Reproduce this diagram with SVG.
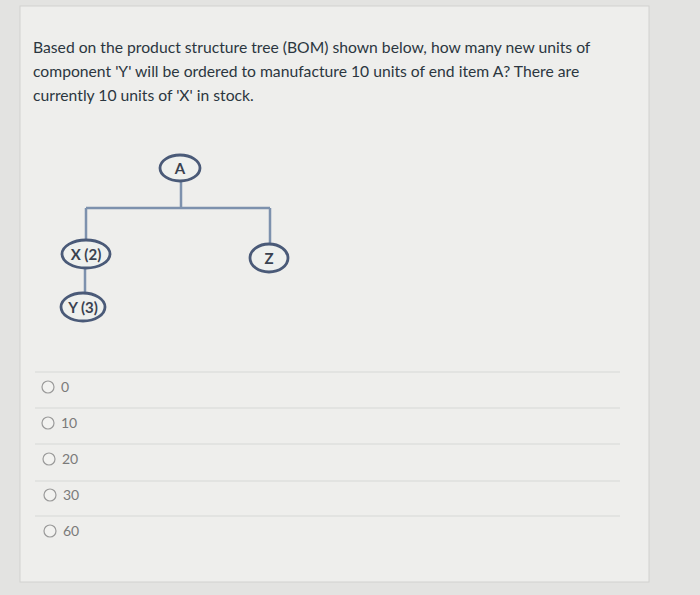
<svg xmlns="http://www.w3.org/2000/svg" width="700" height="595" viewBox="0 0 700 595">
<style>
.q{font-family:Lato,"Liberation Sans",sans-serif;font-size:15.7px;fill:#2b3640}
.edge{stroke:#7d91ad;stroke-width:2.5;fill:none}
.node ellipse{fill:#eef0ee;stroke:#4a5a78;stroke-width:2.8}
.node text{font-family:Lato,"Liberation Sans",sans-serif;font-size:15px;font-weight:bold;fill:#3a4250;text-anchor:middle}
.opt text{font-family:Lato,"Liberation Sans",sans-serif;font-size:14px;fill:#7a7a7a}
.opt circle{fill:#f2f2f0;stroke:#9a9a9a;stroke-width:1.2}
.sep{stroke:#d6d8d6;stroke-width:1}
</style>
<rect x="0" y="0" width="700" height="595" fill="#e3e3e1"/>
<rect x="20" y="6" width="629" height="576" fill="#eeeeec" stroke="#d2d2d0" stroke-width="1"/>
<g id="question">
<text class="q" x="33" y="53">Based on the product structure tree (BOM) shown below, how many new units of</text>
<text class="q" x="33" y="77">component 'Y' will be ordered to manufacture 10 units of end item A? There are</text>
<text class="q" x="33" y="101">currently 10 units of 'X' in stock.</text>
</g>
<g id="connectors">
<path class="edge" d="M181 181 V208 M86 208 H270 M86 208 V240 M270 208 V244 M85 268 V293"/>
</g>
<g id="A" class="node"><ellipse cx="180" cy="168" rx="20" ry="13"/><text x="180" y="174">A</text></g>
<g id="X" class="node"><ellipse cx="86" cy="254" rx="24" ry="14"/><text x="86" y="260">X (2)</text></g>
<g id="Z" class="node"><ellipse cx="269" cy="258" rx="19" ry="14"/><text x="269" y="264">Z</text></g>
<g id="Y" class="node"><ellipse cx="83" cy="307" rx="22" ry="14"/><text x="83" y="313">Y (3)</text></g>
<g id="options">
<line class="sep" x1="35" y1="372" x2="620" y2="372"/>
<line class="sep" x1="35" y1="408" x2="620" y2="408"/>
<line class="sep" x1="35" y1="444" x2="620" y2="444"/>
<line class="sep" x1="35" y1="481" x2="620" y2="481"/>
<line class="sep" x1="35" y1="516" x2="620" y2="516"/>
<g class="opt"><circle cx="48" cy="387" r="6"/><text x="61" y="392">0</text></g>
<g class="opt"><circle cx="48" cy="423" r="6"/><text x="61" y="428">10</text></g>
<g class="opt"><circle cx="49" cy="459" r="6"/><text x="62" y="464">20</text></g>
<g class="opt"><circle cx="50" cy="495" r="6"/><text x="63" y="500">30</text></g>
<g class="opt"><circle cx="50" cy="531" r="6"/><text x="63" y="536">60</text></g>
</g>
</svg>
